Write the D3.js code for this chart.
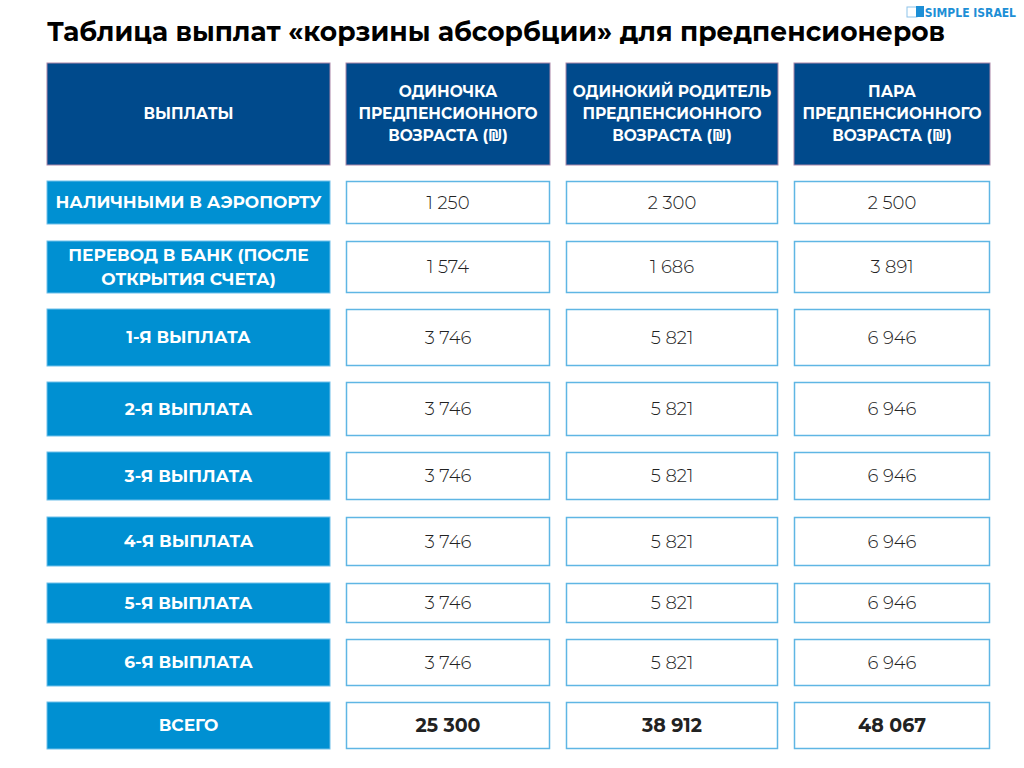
<!DOCTYPE html><html><head><meta charset="utf-8"><script src="https://cdn.jsdelivr.net/npm/d3@7"></script>
<style>body{margin:0;background:#fff}svg{display:block}</style></head><body><svg width="1024" height="768"></svg>
<script>
const title="Таблица выплат «корзины абсорбции» для предпенсионеров";
const headers=[["ВЫПЛАТЫ"],["ОДИНОЧКА","ПРЕДПЕНСИОННОГО","ВОЗРАСТА (₪)"],["ОДИНОКИЙ РОДИТЕЛЬ","ПРЕДПЕНСИОННОГО","ВОЗРАСТА (₪)"],["ПАРА","ПРЕДПЕНСИОННОГО","ВОЗРАСТА (₪)"]];
const rowLabels=[["НАЛИЧНЫМИ В АЭРОПОРТУ"],["ПЕРЕВОД В БАНК (ПОСЛЕ","ОТКРЫТИЯ СЧЕТА)"],["1-Я ВЫПЛАТА"],["2-Я ВЫПЛАТА"],["3-Я ВЫПЛАТА"],["4-Я ВЫПЛАТА"],["5-Я ВЫПЛАТА"],["6-Я ВЫПЛАТА"],["ВСЕГО"]];
const single=[1250,1574,3746,3746,3746,3746,3746,3746,25300];
const parent=[2300,1686,5821,5821,5821,5821,5821,5821,38912];
const couple=[2500,3891,6946,6946,6946,6946,6946,6946,48067];
// layout
const colX=[[47,330],[346,550],[566,778],[794,990]];
const rowY=[[63,165],[181,224],[241,293],[309,366],[382,436],[452,500],[517,566],[583,623],[639,686],[702,749]];
const fmt=v=>d3.format(",")(v).replace(/,/g," ");
const svg=d3.select("svg");
const F="Montserrat, 'Open Sans', sans-serif";
svg.append("text").attr("x",47).attr("y",41).attr("font-family",F).attr("font-weight",700).attr("font-size",26.5).attr("fill","#000").text(title);
const lg=svg.append("g");
lg.append("text").attr("x",1016).attr("y",17).attr("text-anchor","end").attr("font-family","'DejaVu Sans Condensed',sans-serif").attr("font-weight",700).attr("font-size",12).attr("fill","#1d8fd6").text("SIMPLE ISRAEL");
lg.append("rect").attr("x",907).attr("y",7).attr("width",10).attr("height",10).attr("fill","none").attr("stroke","#8ec3ea");
lg.append("rect").attr("x",916).attr("y",6).attr("width",8).attr("height",11).attr("fill","#1d8fd6");
function multiline(g,lines,cx,cy,lh,opts){
  const t=g.append("text").attr("text-anchor","middle").attr("font-family",F).attr("font-size",opts.size).attr("font-weight",opts.weight).attr("fill",opts.fill);
  lines.forEach((l,i)=>t.append("tspan").attr("x",cx).attr("y",cy+(i-(lines.length-1)/2)*lh).attr("dy","0.35em").text(l));
}
headers.forEach((h,j)=>{
  const [x0,x1]=colX[j],[y0,y1]=rowY[0];
  svg.append("rect").attr("x",x0).attr("y",y0).attr("width",x1-x0).attr("height",y1-y0).attr("fill","#004a8c").attr("stroke","#a986a8").attr("stroke-width",1);
  multiline(svg,h,(x0+x1)/2,(y0+y1)/2,22,{size:15.5,weight:700,fill:"#fff"});
});
const series=[single,parent,couple];
rowLabels.forEach((lab,i)=>{
  const [y0,y1]=rowY[i+1];const last=i===rowLabels.length-1;
  const [x0,x1]=colX[0];
  svg.append("rect").attr("x",x0).attr("y",y0).attr("width",x1-x0).attr("height",y1-y0).attr("fill","#0090d2").attr("stroke","#6fc0ea");
  multiline(svg,lab,(x0+x1)/2,(y0+y1)/2,24,{size:17,weight:700,fill:"#fff"});
  series.forEach((s,j)=>{
    const [a,b]=colX[j+1];
    svg.append("rect").attr("x",a+0.5).attr("y",y0+0.5).attr("width",b-a-1).attr("height",y1-y0-1).attr("fill","#fff").attr("stroke","#5fb6e4").attr("stroke-width",1.5);
    multiline(svg,[fmt(s[i])],(a+b)/2,(y0+y1)/2,0,{size:last?19:18,weight:last?700:300,fill:"#222"});
  });
});
</script></body></html>
